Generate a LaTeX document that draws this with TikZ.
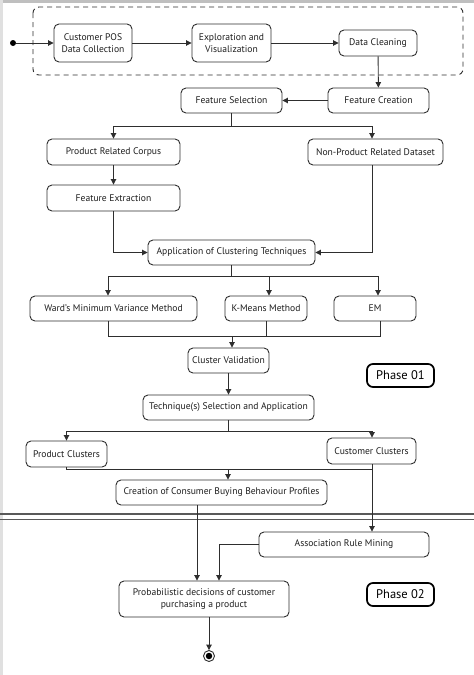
\documentclass[tikz,border=0pt]{standalone}
\usepackage{fontspec}
\setmainfont{PT Sans}
\usetikzlibrary{arrows.meta}
\definecolor{linec}{HTML}{2E2E2E}
\definecolor{textc}{HTML}{1E1E1E}
\begin{document}
\begin{tikzpicture}[x=1pt,y=-1pt,
  box/.style={draw=linec, line width=0.9pt, rounded corners=5pt, inner sep=0pt, align=center,
    font=\fontsize{9.6}{11.5}\selectfont, text=textc},
  phase/.style={draw=black, line width=1.7pt, rounded corners=6pt, inner sep=0pt,
    minimum width=67pt, minimum height=23pt, font=\fontsize{12.5}{14}\selectfont, text=black},
  conn/.style={draw=linec, line width=0.9pt},
  arr/.style={conn, -{Triangle[length=5.5pt,width=5.5pt]}},
  dbl/.style={draw=black!65, line width=1.1pt}]
\useasboundingbox (0,0) rectangle (474,675);
\fill[white] (0,0) rectangle (474,675);
\fill[black!25] (0,0) rectangle (474,2.5);
\fill[black!12] (0,0) rectangle (2.5,675);
% dashed frame
\draw[linec, line width=0.9pt, dash pattern=on 5pt off 4pt, rounded corners=6pt] (33,7) rectangle (463,75);
% nodes
\node[fill=black, circle, inner sep=0pt, minimum size=6pt] (start) at (13,43) {};
\node[box, minimum width=78pt, minimum height=38pt] (cpos) at (93,43) {Customer POS\\Data Collection};
\node[box, minimum width=79pt, minimum height=38pt] (expl) at (231.5,43) {Exploration and\\Visualization};
\node[box, minimum width=78pt, minimum height=26pt] (dclean) at (378,43) {Data Cleaning};
\node[box, minimum width=101pt, minimum height=25pt] (fcreate) at (378.5,100.5) {Feature Creation};
\node[box, minimum width=101pt, minimum height=25pt] (fsel) at (231.5,100.5) {Feature Selection};
\node[box, minimum width=133pt, minimum height=26pt] (prc) at (113.5,152) {Product Related Corpus};
\node[box, minimum width=135pt, minimum height=26pt] (nprd) at (375.5,152) {Non-Product Related Dataset};
\node[box, minimum width=133pt, minimum height=26pt] (fext) at (113.5,198) {Feature Extraction};
\node[box, minimum width=167pt, minimum height=25pt] (app) at (231.5,252.5) {Application of Clustering Techniques};
\node[box, minimum width=167pt, minimum height=25pt] (ward) at (113.5,308.5) {Ward's Minimum Variance Method};
\node[box, minimum width=82pt, minimum height=25pt] (kmeans) at (266,308.5) {K-Means Method};
\node[box, minimum width=82pt, minimum height=25pt] (em) at (375,308.5) {EM};
\node[box, minimum width=81pt, minimum height=25pt] (cv) at (228.5,360.5) {Cluster Validation};
\node[box, minimum width=171pt, minimum height=25pt] (tech) at (228.5,407.5) {Technique(s) Selection and Application};
\node[box, minimum width=81pt, minimum height=26pt] (pc) at (66.5,454) {Product Clusters};
\node[box, minimum width=89pt, minimum height=26pt] (cc) at (371.5,451) {Customer Clusters};
\node[box, minimum width=211pt, minimum height=25pt] (cre) at (221.5,492.5) {Creation of Consumer Buying Behaviour Profiles};
\node[box, minimum width=170pt, minimum height=25pt] (arm) at (344,544.5) {Association Rule Mining};
\node[box, minimum width=170pt, minimum height=36pt] (prob) at (204,599) {Probabilistic decisions of customer\\purchasing a product};
\node[draw=linec, line width=0.9pt, circle, inner sep=0pt, minimum size=11pt] (end) at (209,656) {};
\node[fill=black, circle, inner sep=0pt, minimum size=6.5pt] (endin) at (209,656) {};
\node[phase] (ph1) at (400.5,375.5) {Phase 01};
\node[phase] (ph2) at (400.5,594.5) {Phase 02};
% junction coordinates
\coordinate (j1) at (231.5,126);
\coordinate (j2) at (231.5,276);
\coordinate (j3) at (232,336);
\coordinate (j4) at (228.5,431.5);
\coordinate (j5) at (228,469);
\coordinate (j6) at (219,544.5);
% double line
\draw[dbl] (0,514) -- (474,514);
\draw[dbl] (0,519.5) -- (474,519.5);
% connectors
\draw[arr] (start) -- (cpos);
\draw[arr] (cpos) -- (expl);
\draw[arr] (expl) -- (dclean);
\draw[arr] (dclean) -- (fcreate);
\draw[arr] (fcreate) -- (fsel);
\draw[conn] (fsel) -- (j1);
\draw[arr] (j1) -| (prc);
\draw[arr] (j1) -| ([xshift=-3.5pt]nprd.north);
\draw[arr] (prc) -- (fext);
\draw[arr] (fext) |- (app);
\draw[arr] ([xshift=-3.5pt]nprd.south) |- (app);
\draw[conn] (app) -- (j2);
\draw[arr] (j2) -| ([xshift=-5.5pt]ward.north);
\draw[arr] (j2) -| ([xshift=3pt]kmeans.north);
\draw[arr] (j2) -| ([xshift=3pt]em.north);
\draw[conn] ([xshift=-5.5pt]ward.south) |- ([xshift=5pt]em.south |- j3) -- ([xshift=5pt]em.south);
\draw[conn] (kmeans) -- (kmeans |- j3);
\draw[arr] (j3) -- (j3 |- cv.north);
\draw[arr] (cv) -- (tech);
\draw[conn] (tech) -- (j4);
\draw[arr] (j4) -| (pc);
\draw[arr] (j4) -| ([xshift=0.5pt]cc.north);
\draw[conn] (pc) |- ([xshift=0.5pt]cc.south |- j5);
\draw[arr] ([xshift=0.5pt]cc.south) -- ([xshift=0.5pt]cc.south |- arm.north);
\draw[arr] (j5) -- (j5 |- cre.north);
\draw[arr] ([xshift=-24.5pt]cre.south) -- ([xshift=-24.5pt]cre.south |- prob.north);
\draw[conn] (arm) -- (j6);
\draw[arr] (j6) -- (j6 |- prob.north);
\draw[arr] ([xshift=5pt]prob.south) -- (end);
\end{tikzpicture}
\end{document}
